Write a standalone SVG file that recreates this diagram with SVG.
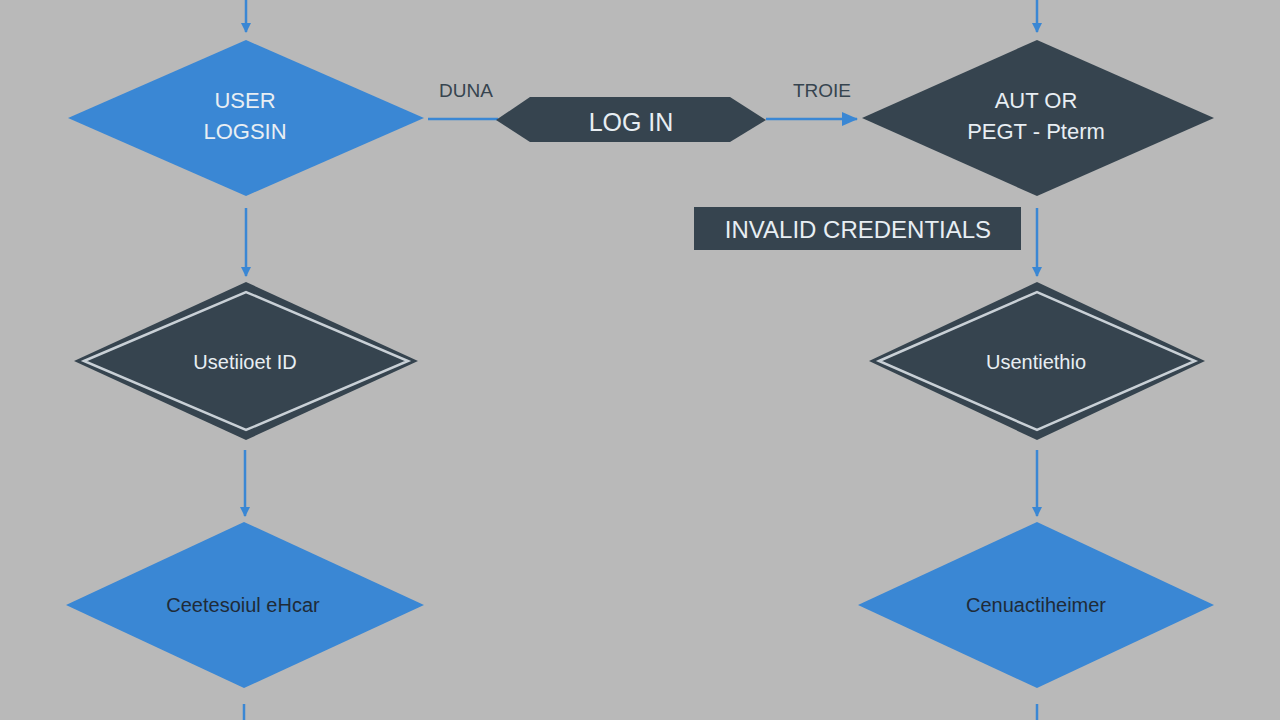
<svg xmlns="http://www.w3.org/2000/svg" width="1280" height="720" viewBox="0 0 1280 720">
<defs>
<marker id="ah" markerWidth="10" markerHeight="10" refX="9" refY="5" orient="auto" markerUnits="userSpaceOnUse" viewBox="0 0 10 10"><path d="M0,0 L10,5 L0,10 z" fill="#3a87d4"/></marker>
<marker id="ah2" markerWidth="16" markerHeight="16" refX="15" refY="8" orient="auto" markerUnits="userSpaceOnUse" viewBox="0 0 16 16"><path d="M0,1 L16,8 L0,15 z" fill="#3a87d4"/></marker>
</defs>
<style>
.blue{fill:#3a87d4}
.dark{fill:#36444f}
.in{fill:none;stroke:#c9d0d6;stroke-width:2.5}
.t{font-family:"Liberation Sans",Arial,sans-serif;fill:#e8eef3;text-anchor:middle}
.lbl{font-family:"Liberation Sans",Arial,sans-serif;fill:#36444f;text-anchor:middle;font-size:19px}
.c{stroke:#3a87d4;stroke-width:2.5;fill:none}
</style>
<rect width="1280" height="720" fill="#b9b9b9"/>
<g id="connectors">
<line class="c" x1="246" y1="0" x2="246" y2="32" marker-end="url(#ah)"/>
<line class="c" x1="1037" y1="0" x2="1037" y2="32" marker-end="url(#ah)"/>
<line class="c" x1="428" y1="119" x2="498" y2="119"/>
<line class="c" x1="766" y1="119" x2="857" y2="119" marker-end="url(#ah2)"/>
<line class="c" x1="246" y1="208" x2="246" y2="276" marker-end="url(#ah)"/>
<line class="c" x1="1037" y1="208" x2="1037" y2="276" marker-end="url(#ah)"/>
<line class="c" x1="245" y1="450" x2="245" y2="516" marker-end="url(#ah)"/>
<line class="c" x1="1037" y1="450" x2="1037" y2="516" marker-end="url(#ah)"/>
<line class="c" x1="244" y1="704" x2="244" y2="720"/>
<line class="c" x1="1037" y1="704" x2="1037" y2="720"/>
<text class="lbl" x="466" y="97">DUNA</text>
<text class="lbl" x="822" y="97">TROIE</text>
</g>
<g id="user-login">
<polygon class="blue" points="68,118 246,40 424,118 246,196"/>
<text class="t" x="245" y="108" font-size="22">USER</text>
<text class="t" x="245" y="139" font-size="22">LOGSIN</text>
</g>
<g id="log-in">
<polygon class="dark" points="496,120 530,97 730,97 766,120 730,142 530,142"/>
<text class="t" x="631" y="131" font-size="25">LOG IN</text>
</g>
<g id="auth">
<polygon class="dark" points="862,118 1037,40 1214,118 1037,196"/>
<text class="t" x="1036" y="108" font-size="22">AUT OR</text>
<text class="t" x="1036" y="139" font-size="22">PEGT - Pterm</text>
</g>
<g id="invalid">
<rect class="dark" x="694" y="207" width="327" height="43"/>
<text class="t" x="858" y="238" font-size="24">INVALID CREDENTIALS</text>
</g>
<g id="user-id-left">
<polygon class="dark" points="74,361 246,282 418,361 246,440"/>
<polygon class="in" points="84,361 246,292 408,361 246,430"/>
<text class="t" x="245" y="369" font-size="20">Usetiioet ID</text>
</g>
<g id="user-id-right">
<polygon class="dark" points="869,361 1037,282 1205,361 1037,440"/>
<polygon class="in" points="879,361 1037,292 1195,361 1037,430"/>
<text class="t" x="1036" y="369" font-size="20">Usentiethio</text>
</g>
<g id="bottom-left">
<polygon class="blue" points="66,605 244,522 424,605 244,688"/>
<text class="t" x="243" y="612" font-size="20" fill="#1e2a36" style="fill:#1f2b38">Ceetesoiul eHcar</text>
</g>
<g id="bottom-right">
<polygon class="blue" points="858,605 1037,522 1214,605 1037,688"/>
<text class="t" x="1036" y="612" font-size="20" style="fill:#1f2b38">Cenuactiheimer</text>
</g>
</svg>
